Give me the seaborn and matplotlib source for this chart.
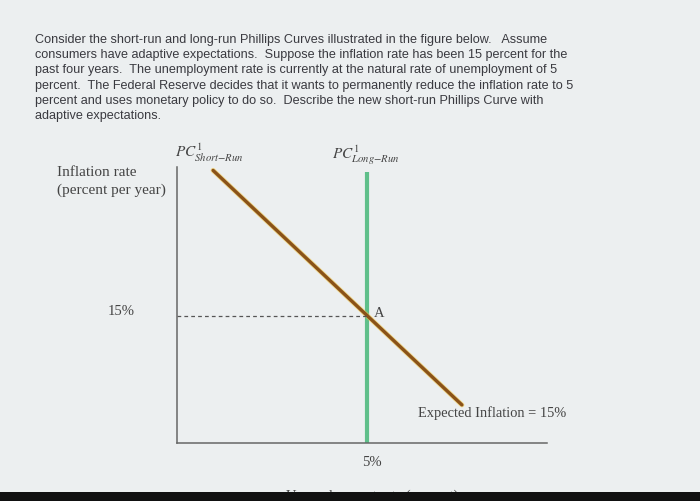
import matplotlib
matplotlib.use("Agg")
import matplotlib.pyplot as plt
import seaborn as sns
import pandas as pd
from matplotlib.patches import Rectangle

# --- data ---
natural_rate = 5.0          # unemployment, percent
expected_inflation = 15.0   # inflation, percent per year
lr_x = [5.0, 5.0]
lr_y = [0.0, 32.0]
sr_x = [0.95, 7.5]
sr_y = [32.2, 4.5]
x_ticks = [5.0]
x_tick_labels = ["5%"]
y_ticks = [15.0]
y_tick_labels = ["15%"]

question = (
    "Consider the short-run and long-run Phillips Curves illustrated in the figure below.   Assume\n"
    "consumers have adaptive expectations.  Suppose the inflation rate has been 15 percent for the\n"
    "past four years.  The unemployment rate is currently at the natural rate of unemployment of 5\n"
    "percent.  The Federal Reserve decides that it wants to permanently reduce the inflation rate to 5\n"
    "percent and uses monetary policy to do so.  Describe the new short-run Phillips Curve with\n"
    "adaptive expectations."
)

sns.set_style("white")
plt.rcParams["font.family"] = ["Liberation Serif", "DejaVu Serif"]
plt.rcParams["mathtext.fontset"] = "stix"

W, H = 700, 501
bg = "#eceff0"
fig = plt.figure(figsize=(W / 100, H / 100), dpi=100, facecolor=bg)

# axes placed in pixel terms: origin at (177, 443), top at 167, right at 547
ax = fig.add_axes([177 / W, (H - 443) / H, 370 / W, (443 - 167) / H])
ax.set_facecolor(bg)
ax.set_xlim(0, 9.74)
ax.set_ylim(0, 32.6)

sr = pd.DataFrame({"u": sr_x, "pi": sr_y})
lr = pd.DataFrame({"u": lr_x, "pi": lr_y})
sns.lineplot(data=lr, x="u", y="pi", ax=ax, estimator=None, sort=False,
             color="#5fbf8a", lw=3, solid_capstyle="butt")
sns.lineplot(data=sr, x="u", y="pi", ax=ax, estimator=None, sort=False,
             color="#f2c94c", lw=3.6, alpha=0.6)
sns.lineplot(data=sr, x="u", y="pi", ax=ax, estimator=None, sort=False,
             color="#8a5218", lw=2.4)

ax.plot([0, natural_rate], [expected_inflation, expected_inflation],
        ls=(0, (3, 2.5)), color="#555555", lw=0.9)

for s in ["top", "right"]:
    ax.spines[s].set_visible(False)
for s in ["left", "bottom"]:
    ax.spines[s].set_color("#666666")
    ax.spines[s].set_linewidth(1.1)
ax.set_xticks([])
ax.set_yticks([])
ax.set_xlabel("")
ax.set_ylabel("")

tc = "#444444"
# tick-like labels
for v, lab in zip(x_ticks, x_tick_labels):
    ax.annotate(lab, (v, 0), xytext=(3.5, -14), textcoords="offset points",
                ha="center", va="center", fontsize=10.5, color=tc)
for v, lab in zip(y_ticks, y_tick_labels):
    ax.annotate(lab, (0, v), xytext=(-40.5, 3), textcoords="offset points",
                ha="center", va="center", fontsize=10.5, color=tc)

ax.annotate("A", (natural_rate, expected_inflation), xytext=(9, 2),
            textcoords="offset points", ha="center", va="center",
            fontsize=10.5, color=tc)
ax.annotate("Expected Inflation = 15%", (sr_x[1], sr_y[1]), xytext=(22, -6),
            textcoords="offset points", ha="center", va="center",
            fontsize=10.4, color=tc)
fig.text(175 / W, 1 - 153 / H, r"$PC^{1}_{Short{-}Run}$", ha="left",
         va="center", fontsize=11, color=tc)
fig.text(332 / W, 1 - 155 / H, r"$PC^{1}_{Long{-}Run}$", ha="left",
         va="center", fontsize=11, color=tc)

# axis titles
fig.text(57 / W, 1 - 172 / H, "Inflation rate", ha="left", va="center",
         fontsize=11, color=tc)
fig.text(57 / W, 1 - 190 / H, "(percent per year)", ha="left", va="center",
         fontsize=11, color=tc)
# the photo crops this label at the bottom edge
fig.text(372 / W, 1 - 490 / H, "Unemployment rate (percent)", ha="center",
         va="top", fontsize=10.5, color=tc)

# question text
fig.text(35 / W, 1 - 34 / H, question, ha="left", va="top",
         fontsize=9.05, color="#3a3a40", linespacing=1.36,
         family=["Liberation Sans", "DejaVu Sans"])

# dark strip at the bottom of the photo
fig.patches.append(Rectangle((0, 0), 1, 9.5 / H, transform=fig.transFigure,
                             facecolor="#111111", edgecolor="none", zorder=10))

fig.savefig("out.png", dpi=100, facecolor=bg)
